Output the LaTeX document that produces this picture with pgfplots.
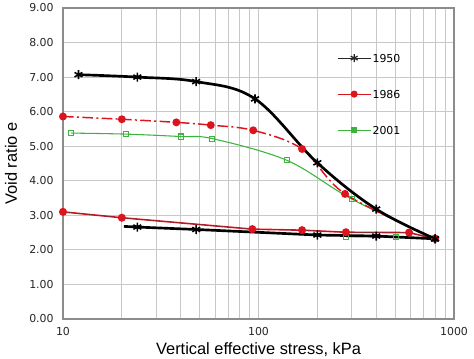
\documentclass[border=0pt]{standalone}
\usepackage{pgfplots}
\pgfplotsset{compat=1.18}
\usepackage{fontspec}
\setmainfont{Liberation Sans}
\newfontfamily\tickfont{DejaVu Sans}
\definecolor{gridc}{RGB}{200,200,200}
\definecolor{axc}{RGB}{140,140,140}
\definecolor{redc}{RGB}{220,20,30}
\definecolor{greenc}{RGB}{60,180,60}
\begin{document}
\begin{tikzpicture}
\begin{axis}[
  scale only axis,
  width=293.25pt, height=233.25pt,
  xmode=log, log basis x=10,
  xmin=10, xmax=1000, ymin=0, ymax=9,
  xtick={10,100,1000}, xticklabels={10,100,1000},
  minor xtick={20,30,40,50,60,70,80,90,200,300,400,500,600,700,800,900},
  ytick={0,1,2,3,4,5,6,7,8,9},
  ticklabel style={font=\tickfont\fontsize{8.2}{9}\selectfont, text=black!85},
  xticklabel style={yshift=-3pt},
  yticklabel style={xshift=-3.5pt, /pgf/number format/.cd, fixed, fixed zerofill, precision=2, assume math mode=true},
  grid=both,
  major grid style={gridc, line width=0.8pt},
  minor grid style={gridc, line width=0.8pt},
  axis line style={axc, line width=0.8pt},
  tick style={draw=none},
  minor tick style={draw=none},
  xlabel={Vertical effective stress, kPa},
  ylabel={Void ratio e},
  label style={font=\fontsize{12.3}{14}\selectfont},
  xlabel style={at={(axis description cs:0.5,0)}, anchor=center, yshift=-23.25pt},
  ylabel style={at={(axis description cs:0,0.5)}, anchor=center, yshift=39pt},
  legend style={draw=none, fill=none, at={(axis description cs:0.7008,0.856)}, anchor=north west,
    font=\tickfont\fontsize{8.2}{9}\selectfont, row sep=19pt, inner sep=0pt, outer sep=0pt,
    nodes={inner sep=1pt, text height=6pt, text depth=0pt}, column sep=0pt},
  legend cell align=left,
  legend image code/.code={
    \draw[#1] (0pt,0pt) -- (24.75pt,0pt);
    \draw[#1, mark repeat=1, mark phase=1] plot coordinates {(12.4pt,0pt)};
  },
]
\coordinate (bl) at (rel axis cs:0,0);
\coordinate (tr) at (rel axis cs:1,1);
% thicker left/bottom axis lines
\draw[axc, line width=1.6pt] (rel axis cs:0,1) -- (rel axis cs:0,0) -- (rel axis cs:1,0);

\addlegendimage{black!85, line width=0.9pt, mark=asterisk, mark size=3pt, mark options={solid}}
\addlegendentry{1950}
\addlegendimage{redc, line width=0.9pt, mark=*, mark size=2.2pt, mark options={solid}}
\addlegendentry{1986}
\addlegendimage{greenc, line width=0.9pt, mark=square*, mark size=1.8pt, mark options={solid}}
\addlegendentry{2001}

% 2001 (green)
\addplot[greenc, line width=0.8pt, smooth, tension=0.55, mark=square, mark size=1.9pt, mark options={solid, line width=0.8pt}, forget plot]
 coordinates {(11,5.38) (21,5.35) (40,5.28) (58,5.22) (140,4.59) (300,3.47) (800,2.32)};
\addplot[greenc, line width=0.8pt, mark=square, mark size=1.9pt, mark options={solid, line width=0.8pt}, forget plot]
 coordinates {(800,2.32) (505,2.37) (280,2.38)};

% 1986 (red)
\addplot[redc, line width=1.1pt, smooth, tension=0.55, dash pattern=on 8pt off 2.5pt on 1.5pt off 2.5pt, mark=*, mark size=2.4pt, mark options={solid}, forget plot]
 coordinates {(10,5.86) (20,5.78) (38,5.69) (57,5.61) (94,5.46) (167,4.92) (277,3.62) (800,2.33)};
\addplot[redc, line width=1.2pt, mark=*, mark size=2.4pt, mark options={solid}, forget plot]
 coordinates {(800,2.32) (589,2.50) (280,2.51) (167,2.57) (93,2.60) (20,2.93) (10,3.10)};
\addplot[black!75, line width=0.25pt, forget plot]
 coordinates {(800,2.32) (589,2.50) (280,2.51) (167,2.57) (93,2.60) (20,2.93) (10,3.10)};

% 1950 (black)
\addplot[black, line width=2pt, smooth, tension=0.6, mark=asterisk, mark size=3.4pt, mark options={solid, line width=1.2pt}, forget plot]
 coordinates {(12,7.07) (24,7.00) (48,6.87) (96,6.37) (200,4.52) (400,3.18) (800,2.32)};
\addplot[black, line width=2pt, forget plot]
 coordinates {(800,2.32) (400,2.40) (200,2.43) (48,2.59) (24,2.66) (20.5,2.68)};
\addplot[black, only marks, mark=asterisk, mark size=3.4pt, mark options={solid, line width=1.2pt}, forget plot]
 coordinates {(800,2.32) (400,2.40) (200,2.43) (48,2.59) (24,2.66)};
\end{axis}
\pgfresetboundingbox
\path ([xshift=-47.25pt, yshift=-30pt]bl) rectangle ([xshift=15pt, yshift=6pt]tr);
\end{tikzpicture}
\end{document}
